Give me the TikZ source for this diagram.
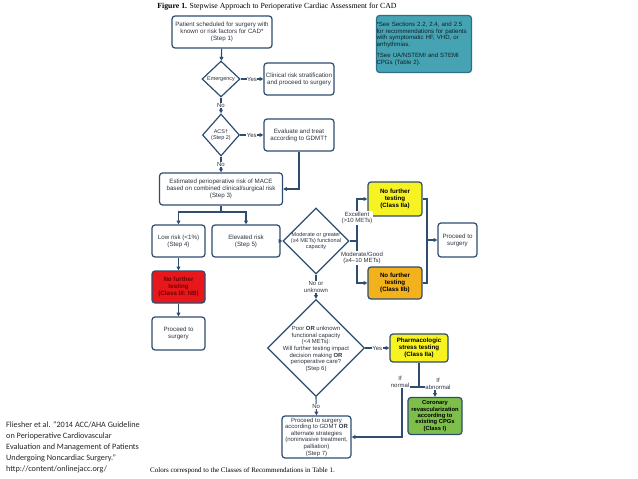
\documentclass[tikz,border=0pt]{standalone}
\usepackage{fontspec}
\setmainfont{Liberation Sans}
\newfontfamily\timesfont{Liberation Serif}
\newfontfamily\calibfont{Carlito}
\usepackage{xcolor}
\usetikzlibrary{arrows.meta,shapes.geometric}
\definecolor{flowline}{HTML}{2E4D70}
\definecolor{flowtext}{HTML}{2B3440}
\definecolor{noteteal}{HTML}{45A3B3}
\definecolor{noteedge}{HTML}{2E6E86}
\definecolor{classred}{HTML}{E8171B}
\definecolor{classyellow}{HTML}{F7F322}
\definecolor{classorange}{HTML}{F3B21C}
\definecolor{classgreen}{HTML}{7DBF4A}

\begin{document}
\begin{tikzpicture}[x=1pt,y=-1pt]
        \tikzstyle{every node}+=[inner sep=0pt]
        \tikzstyle{box}=[draw=flowline, line width=1.2pt, rounded corners=3pt, fill=white, align=center, text=flowtext, font=\fontsize{6.2}{6.8}\selectfont]
        \tikzstyle{classbox}=[box, text=black, font=\fontsize{6.2}{6.8}\selectfont\bfseries]
        \tikzstyle{dia}=[draw=flowline, line width=1.2pt, diamond, fill=white]
        \tikzstyle{diatext}=[align=center, text=flowtext, font=\fontsize{5.5}{6.4}\selectfont]
        \tikzstyle{flow}=[draw=flowline, line width=1.1pt]
        \tikzstyle{go}=[flow, -{Triangle[length=3.8pt,width=3.8pt]}]
        \tikzstyle{lbl}=[fill=white, inner sep=0.6pt, text=flowtext, align=center, font=\fontsize{6}{6.6}\selectfont]
        \path[use as bounding box, fill=white] (0,0) rectangle (638,479);
        \node[font=\timesfont\fontsize{7.8}{9}\selectfont] (title) at (277,7) {\textbf{Figure 1.} Stepwise Approach to Perioperative Cardiac Assessment for CAD};
        \node[box, minimum width=100pt, minimum height=32pt] (step1) at (222,32) {Patient scheduled for surgery with\\known or risk factors for CAD*\\(Step 1)};
        \node[box, fill=noteteal, draw=noteedge, text=black!80!noteteal, align=left, text width=95pt, minimum height=57pt, font=\fontsize{6.1}{6.6}\selectfont] (note) at (424,44) {*See Sections 2.2, 2.4, and 2.5\\for recommendations for patients\\with symptomatic HF, VHD, or\\arrhythmias.\\[5pt]†See UA/NSTEMI and STEMI\\CPGs (Table 2).};
        \node[dia, minimum width=38pt, minimum height=36pt] (emerg) at (221,79) {};
        \node[diatext] (emergt) at (emerg) {Emergency};
        \node[box, minimum width=70pt, minimum height=32pt] (clin) at (299,79) {Clinical risk stratification\\and proceed to surgery};
        \node[dia, minimum width=37pt, minimum height=42pt] (acs) at (221,135) {};
        \node[diatext] (acst) at (acs) {ACS†\\(Step 2)};
        \node[box, minimum width=70pt, minimum height=32pt] (eval) at (299,135) {Evaluate and treat\\according to GDMT†};
        \node[box, minimum width=123pt, minimum height=32pt] (step3) at (221,189) {Estimated perioperative risk of MACE\\based on combined clinical/surgical risk\\(Step 3)};
        \node[box, minimum width=53pt, minimum height=32pt] (low) at (178.5,241) {Low risk (<1\%)\\(Step 4)};
        \node[box, minimum width=68pt, minimum height=32pt] (elev) at (246,241) {Elevated risk\\(Step 5)};
        \node[dia, minimum width=66pt, minimum height=66pt] (mod) at (316,241) {};
        \node[diatext] (modt) at (mod) {Moderate or greater\\(≥4 METs) functional\\capacity};
        \node[classbox, fill=classred, text=red!45!black, minimum width=53pt, minimum height=32pt] (red) at (178.5,287) {No further\\testing\\(Class III: NB)};
        \node[box, minimum width=53pt, minimum height=33pt] (proc1) at (178.5,333.5) {Proceed to\\surgery};
        \node[classbox, fill=classyellow, minimum width=54pt, minimum height=34pt] (yel) at (395,199) {No further\\testing\\(Class IIa)};
        \node[classbox, fill=classorange, minimum width=54pt, minimum height=32pt] (ora) at (395,283) {No further\\testing\\(Class IIb)};
        \node[box, minimum width=39pt, minimum height=34pt] (proc2) at (457.5,240) {Proceed to\\surgery};
        \node[dia, minimum width=97pt, minimum height=97pt] (step6) at (316,348) {};
        \node[diatext, font=\fontsize{5.9}{6.6}\selectfont] (step6t) at (316,349) {Poor \textbf{OR} unknown\\functional capacity\\(<4 METs):\\Will further testing impact\\decision making \textbf{OR}\\perioperative care?\\(Step 6)};
        \node[classbox, fill=classyellow, minimum width=58pt, minimum height=28pt] (pharm) at (419,348) {Pharmacologic\\stress testing\\(Class IIa)};
        \node[classbox, fill=classgreen, minimum width=54pt, minimum height=37pt, font=\fontsize{5.8}{6.4}\selectfont\bfseries] (green) at (435,416) {Coronary\\revascularization\\according to\\existing CPGs\\(Class I)};
        \node[box, minimum width=69pt, minimum height=42pt, font=\fontsize{6}{6.6}\selectfont] (step7) at (316.5,437) {Proceed to surgery\\according to GDMT \textbf{OR}\\alternate strategies\\(noninvasive treatment,\\palliation)\\(Step 7)};
        \coordinate (split) at (221,212);
        \coordinate (jl) at (357,241);
        \coordinate (jr) at (427,240);
        \coordinate (tbar) at (419,387);
        \coordinate (tl) at (402,387);
        \coordinate (tr) at (435,387);
        \draw[go] (step1) -- (emerg);
        \draw[go] (emerg) -- node[lbl]{Yes} (clin);
        \draw[go] (emerg) -- node[lbl]{No} (acs);
        \draw[go] (acs) -- node[lbl]{Yes} (eval);
        \draw[go] (acs) -- node[lbl]{No} (step3);
        \draw[go] (eval.south) |- (step3.east);
        \draw[flow] (step3.south) -- (split);
        \draw[go] (split) -| (low.north);
        \draw[go] (split) -| (elev.north);
        \draw[go] (low) -- (red);
        \draw[go] (red) -- (proc1);
        \draw[go] (elev) -- (mod);
        \draw[flow] (mod.east) -- (jl);
        \draw[go] (jl) |- (yel.west);
        \draw[go] (jl) |- (ora.west);
        \draw[flow] (yel.east) -| (jr);
        \draw[flow] (ora.east) -| (jr);
        \draw[go] (jr) -- (proc2.west);
        \draw[go] (mod.south) -- node[lbl]{No or\\unknown} (step6.north);
        \draw[go] (step6.east) -- node[lbl]{Yes} (pharm.west);
        \draw[go] (step6.south) -- node[lbl]{No} (step7.north);
        \draw[flow] (pharm.south) -- (tbar);
        \draw[flow] (tl) -- (tr);
        \draw[go] (tr) -- (green.north);
        \draw[go] (tl) |- (step7.east);
        \node[lbl] (excl) at (357,218) {Excellent\\(>10 METs)};
        \node[lbl] (modg) at (362,258) {Moderate/Good\\(≥4–10 METs)};
        \node[lbl] (ifn) at (400,382) {If\\normal};
        \node[lbl] (ifa) at (438,384) {If\\abnormal};
        \node[anchor=north west, align=left, text=black!85, font=\calibfont\fontsize{8.2}{11}\selectfont] (cite) at (6,421) {Fliesher et al. “2014 ACC/AHA Guideline\\on Perioperative Cardiovascular\\Evaluation and Management of Patients\\Undergoing Noncardiac Surgery.”\\http://content/onlinejacc.org/};
        \node[anchor=west, font=\timesfont\fontsize{7}{8}\selectfont] (caption) at (150,471) {Colors correspond to the Classes of Recommendations in Table 1.};
\end{tikzpicture}
\end{document}
